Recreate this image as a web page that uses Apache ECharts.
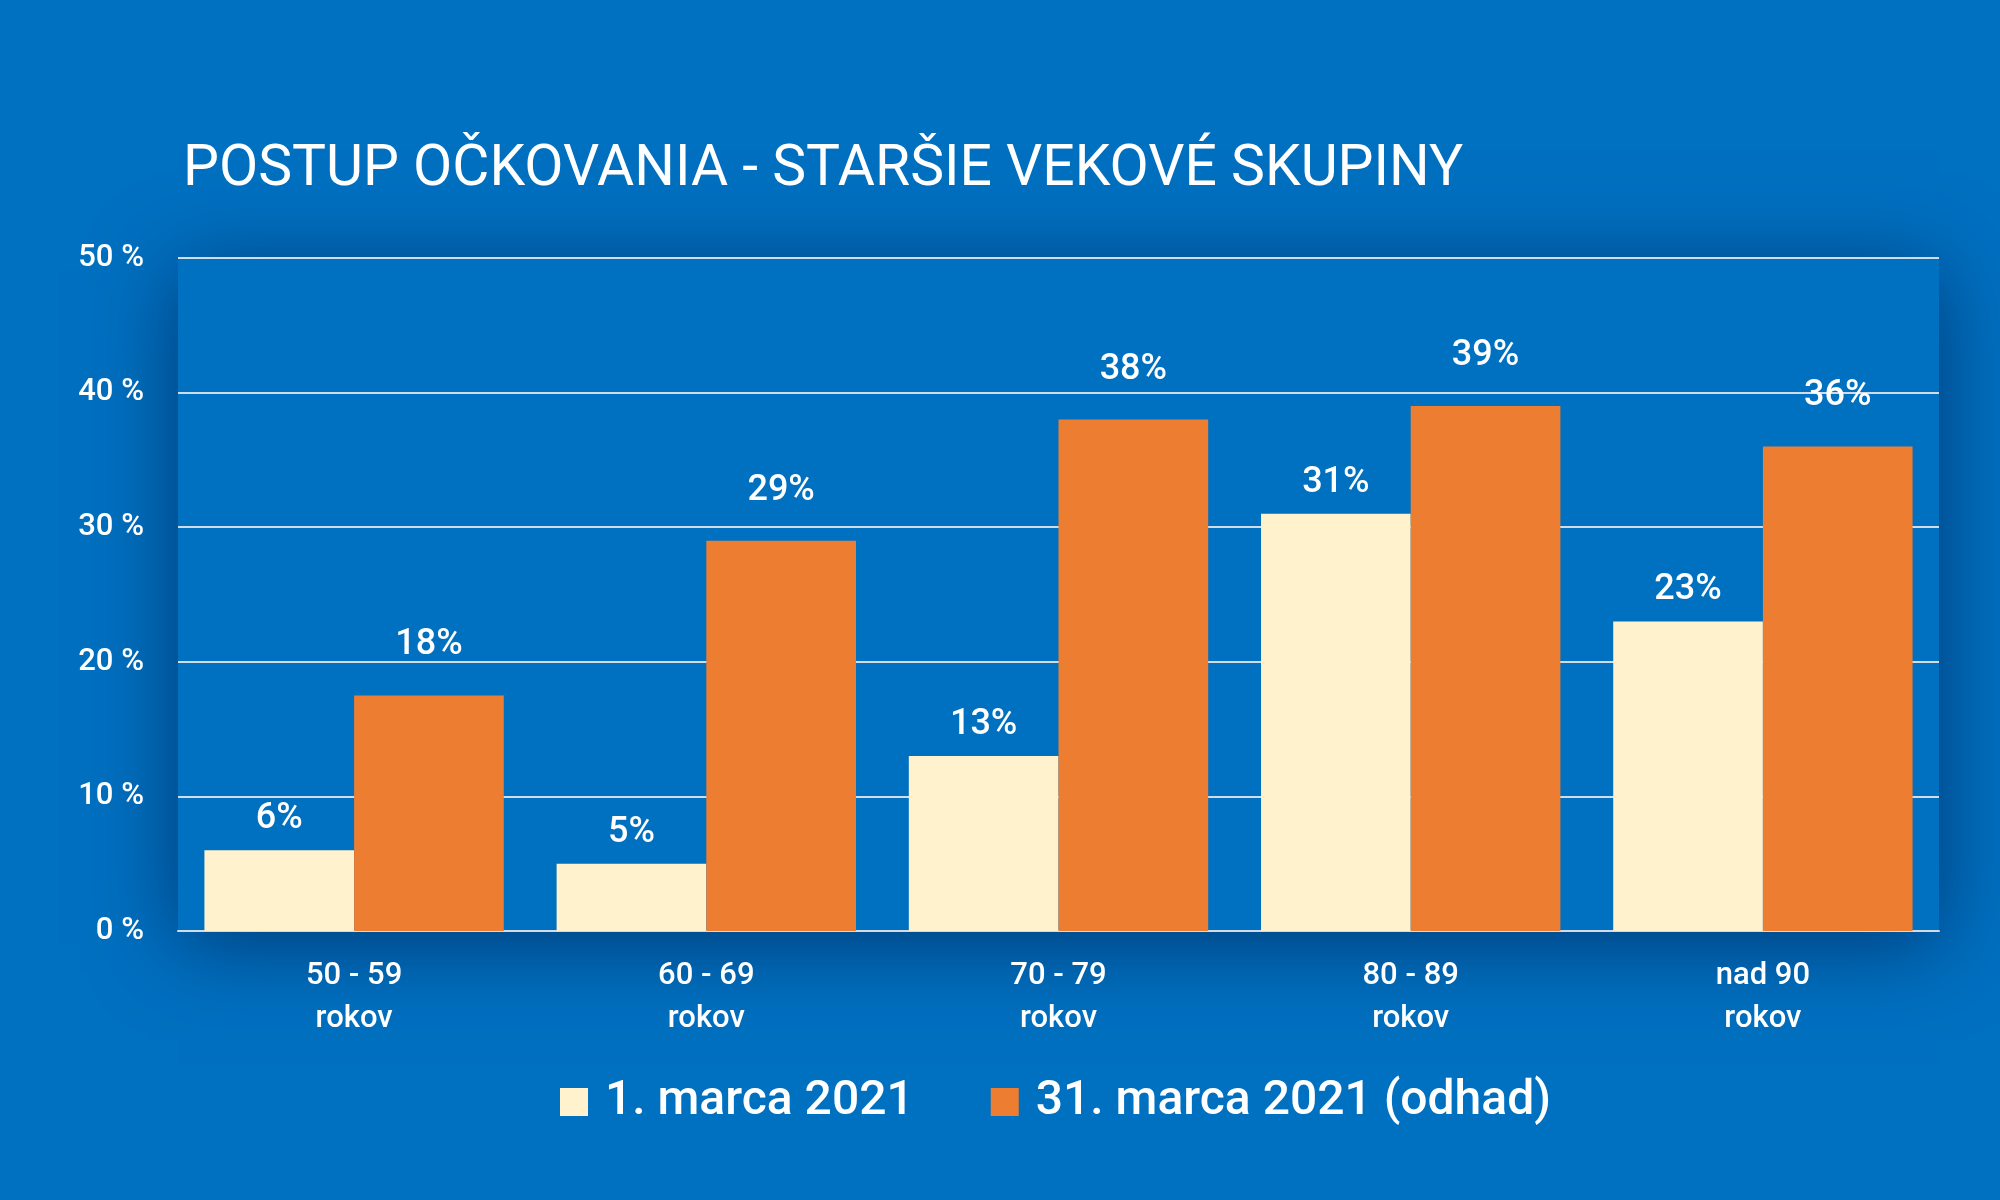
<!DOCTYPE html>
<html>
<head>
<meta charset="utf-8">
<script src="https://cdn.jsdelivr.net/npm/echarts@6/dist/echarts.min.js"></script>
<style>
html, body { margin:0; padding:0; background:#0070C0; }
#chart { width:2000px; height:1200px; }
</style>
</head>
<body>
<div id="chart"></div>
<script>
// vekove skupiny
var categories = ['50 - 59\nrokov', '60 - 69\nrokov', '70 - 79\nrokov', '80 - 89\nrokov', 'nad 90\nrokov'];
var seriesNames = ['1. marca 2021', '31. marca 2021 (odhad)'];
var march1 = [6, 5, 13, 31, 23];
var march31 = [17.5, 29, 38, 39, 36];
var yTicks = [0, 10, 20, 30, 40, 50];

var font = 'Roboto';
var chart = echarts.init(document.getElementById('chart'));

var pctLabel = function(p){ return Math.round(p.value) + '%'; };

var option = {
    backgroundColor: '#0070C0',
    title: {
        text: 'POSTUP OČKOVANIA - STARŠIE VEKOVÉ SKUPINY',
        left: 178,
        top: 137,
        textStyle: { color: '#fff', fontSize: 57, fontWeight: 'normal', fontFamily: font }
    },
    legend: {
        left: 555,
        top: 1073,
        icon: 'rect',
        itemWidth: 28,
        itemHeight: 28,
        itemGap: 77,
        textStyle: { color: '#fff', fontSize: 48, fontWeight: 500, fontFamily: font, padding: [0, 0, 0, 12] },
        data: seriesNames
    },
    grid: {
        show: true,
        left: 178,
        right: 61,
        top: 258,
        bottom: 269,
        backgroundColor: '#0070C0',
        borderWidth: 0,
        shadowBlur: 80,
        shadowColor: 'rgba(0, 35, 85, 0.7)',
        shadowOffsetY: 12
    },
    xAxis: {
        type: 'category',
        data: categories,
        axisTick: { show: false },
        axisLine: { lineStyle: { color: '#D3DCE6', width: 2 } },
        axisLabel: { color: '#fff', fontSize: 31, fontWeight: 500, fontFamily: font, lineHeight: 43, margin: 24 }
    },
    yAxis: {
        type: 'value',
        min: yTicks[0],
        max: yTicks[yTicks.length - 1],
        interval: 10,
        axisLine: { show: false },
        axisTick: { show: false },
        splitLine: { lineStyle: { color: '#D3DCE6', width: 2 } },
        axisLabel: { color: '#fff', fontSize: 31, fontWeight: 500, fontFamily: font, margin: 34, formatter: '{value} %' }
    },
    series: [{
        name: seriesNames[0],
        type: 'bar',
        data: march1,
        barGap: 0,
        barCategoryGap: '15%',
        itemStyle: { color: '#FFF2CC' },
        label: { show: true, position: 'top', distance: 13, color: '#fff', fontSize: 36, fontWeight: 500, fontFamily: font, formatter: pctLabel }
    }, {
        name: seriesNames[1],
        type: 'bar',
        data: march31,
        barGap: 0,
        barCategoryGap: '15%',
        itemStyle: { color: '#ED7D31' },
        label: { show: true, position: 'top', distance: 32, color: '#fff', fontSize: 36, fontWeight: 500, fontFamily: font, formatter: pctLabel }
    }]
};
chart.setOption(option);
</script>
</body>
</html>
